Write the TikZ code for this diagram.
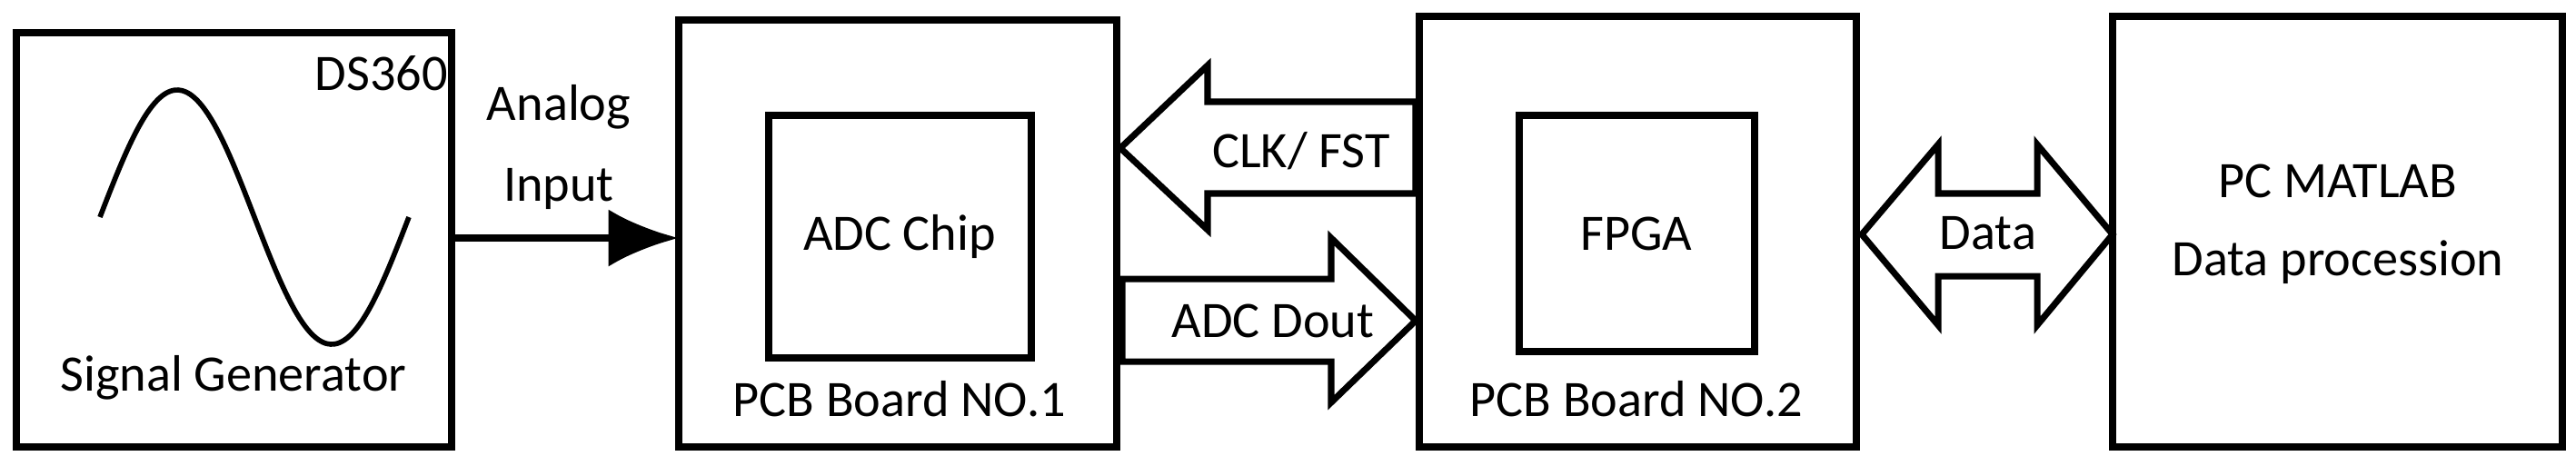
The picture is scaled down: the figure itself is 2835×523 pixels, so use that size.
\documentclass[tikz,border=0pt]{standalone}
\usepackage{fontspec}
\setmainfont{Carlito}
\usetikzlibrary{arrows.meta}
\begin{document}
\begin{tikzpicture}[x=0.01cm,y=-0.01cm,line width=2pt,
  box/.style={draw,line width=2.2pt},
  lbl/.style={font=\fontsize{16}{19}\selectfont,inner sep=0pt},
  blk/.style={draw,line width=2pt,line join=miter}]
\useasboundingbox (0,0) rectangle (2835,523);
\draw[box] (18,36) rectangle (497,492);
\draw[box] (747,22) rectangle (1229,492);
\draw[box] (846,127) rectangle (1135,394);
\draw[box] (1562,18) rectangle (2043,492);
\draw[box] (1672,127) rectangle (1931,387);
\draw[box] (2325,18) rectangle (2820,492);
\coordinate (a1) at (497,262); \coordinate (a2) at (747,262);
\draw[line width=2.5pt,-{Latex[length=22pt,width=18pt]}] (a1) -- (a2);
\draw[line width=1.6pt,domain=0:360,samples=80,smooth] plot ({110+0.9444*\x},{239-140*sin(\x)});
% CLK arrow (left)
\draw[blk] (1558,112) -- (1329,112) -- (1329,72) -- (1233,163) -- (1329,253) -- (1329,213) -- (1558,213) -- cycle;
% ADC Dout arrow (right)
\draw[blk] (1235,307) -- (1465,307) -- (1465,262) -- (1558,353) -- (1465,443) -- (1465,398) -- (1235,398) -- cycle;
% Data double arrow
\draw[blk] (2049,258) -- (2133,159) -- (2133,213) -- (2242,213) -- (2242,159) -- (2325,258) -- (2242,358) -- (2242,304) -- (2133,304) -- (2133,358) -- cycle;
\node[lbl] (ds) at (420,81) {DS360};
\node[lbl] (sg) at (257,416) {Signal Generator};
\node[lbl] (ai1) at (615,118) {Analog};
\node[lbl] (ai2) at (615,208) {Input};
\node[lbl] (adc) at (990,260) {ADC Chip};
\node[lbl] (pcb1) at (990,439) {PCB Board NO.1};
\node[lbl] (clk) at (1432,166) {CLK/ FST};
\node[lbl] (dout) at (1401,353) {ADC Dout};
\node[lbl] (fpga) at (1801,257) {FPGA};
\node[lbl] (pcb2) at (1801,439) {PCB Board NO.2};
\node[lbl] (data) at (2188,257) {Data};
\node[lbl] (pc1) at (2573,199) {PC MATLAB};
\node[lbl] (pc2) at (2573,289) {Data procession};
\end{tikzpicture}
\end{document}
